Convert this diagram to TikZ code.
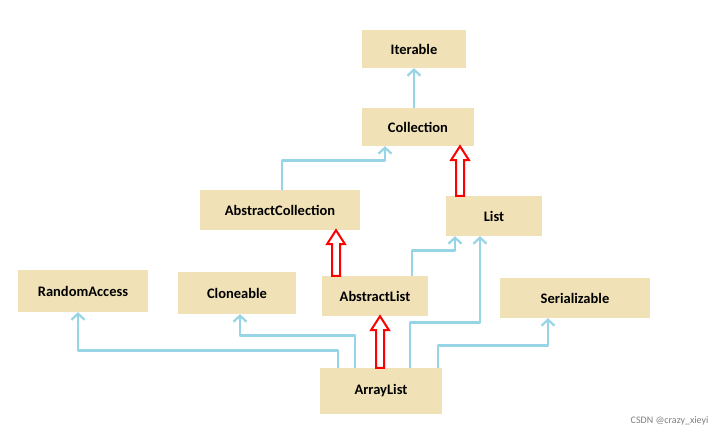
\documentclass[tikz,border=0pt]{standalone}
\usepackage{fontspec}
\setmainfont{Carlito}
\usetikzlibrary{arrows.meta,calc}
\definecolor{boxfill}{HTML}{F0E2B6}
\definecolor{lblue}{HTML}{96D4E6}
\tikzset{
  cls/.style={fill=boxfill,draw=none,font=\bfseries\fontsize{14.5}{16}\selectfont,inner sep=0pt},
  bl/.style={lblue,line width=2.6pt,line join=round,-{Straight Barb[length=6pt,width=13pt,line width=2.2pt]}},
  redarr/.style={red,line width=2pt,line join=miter,fill=white}
}
\newcommand\redup[2]{\draw[redarr] let \p1=(#1), \p2=(#2) in
  (\x1-4pt,\y1) -- (\x1-4pt,\y2-14pt) -- (\x1-9pt,\y2-14pt) -- (\x1,\y2) -- (\x1+9pt,\y2-14pt) -- (\x1+4pt,\y2-14pt) -- (\x1+4pt,\y1) -- cycle;}
\begin{document}
\begin{tikzpicture}[x=1pt,y=-1pt]
\useasboundingbox[fill=white] (0,0) rectangle (720,433);
\node[cls,minimum width=104pt,minimum height=38pt] (It) at (414,49) {Iterable};
\node[cls,minimum width=112pt,minimum height=38pt] (Co) at (418,127) {Collection};
\node[cls,minimum width=160pt,minimum height=40pt] (AC) at (280,210) {AbstractCollection};
\node[cls,minimum width=96pt,minimum height=40pt] (Li) at (494,216) {List};
\node[cls,minimum width=130pt,minimum height=42pt] (RA) at (83,291) {RandomAccess};
\node[cls,minimum width=118pt,minimum height=42pt] (Cl) at (237,293) {Cloneable};
\node[cls,minimum width=106pt,minimum height=40pt] (AL) at (375,296) {AbstractList};
\node[cls,minimum width=150pt,minimum height=40pt] (Se) at (575,298) {Serializable};
\node[cls,minimum width=122pt,minimum height=46pt] (AR) at (381,391) {ArrayList};
\node[gray,font=\fontsize{10}{11}\selectfont,anchor=east] (wm) at (712,421) {CSDN @crazy\_xieyi};

\draw[bl] (Co.north -| It.south) -- (It.south);
\draw[bl] ([xshift=2pt]AC.north) |- ([xshift=-33pt,yshift=-14pt]Co.south) -- ([xshift=-33pt]Co.south);
\draw[bl] ([xshift=37pt]AL.north) |- ([xshift=-39pt,yshift=-14pt]Li.south) -- ([xshift=-39pt]Li.south);
\draw[bl] ([xshift=-43pt]AR.north) |- ([xshift=-5pt,yshift=-38pt]RA.south) -- ([xshift=-5pt]RA.south);
\draw[bl] ([xshift=-26pt]AR.north) |- ([xshift=3pt,yshift=-21pt]Cl.south) -- ([xshift=3pt]Cl.south);
\draw[bl] ([xshift=29pt]AR.north) |- ([xshift=-14pt,yshift=-86pt]Li.south) -- ([xshift=-14pt]Li.south);
\draw[bl] ([xshift=57pt]AR.north) |- ([xshift=-27pt,yshift=-27pt]Se.south) -- ([xshift=-27pt]Se.south);

\redup{[xshift=-1pt]AR.north}{AL.south}
\redup{[xshift=-39pt]AL.north}{AC.south}
\redup{[xshift=-34pt]Li.north}{Co.south}
\end{tikzpicture}
\end{document}
